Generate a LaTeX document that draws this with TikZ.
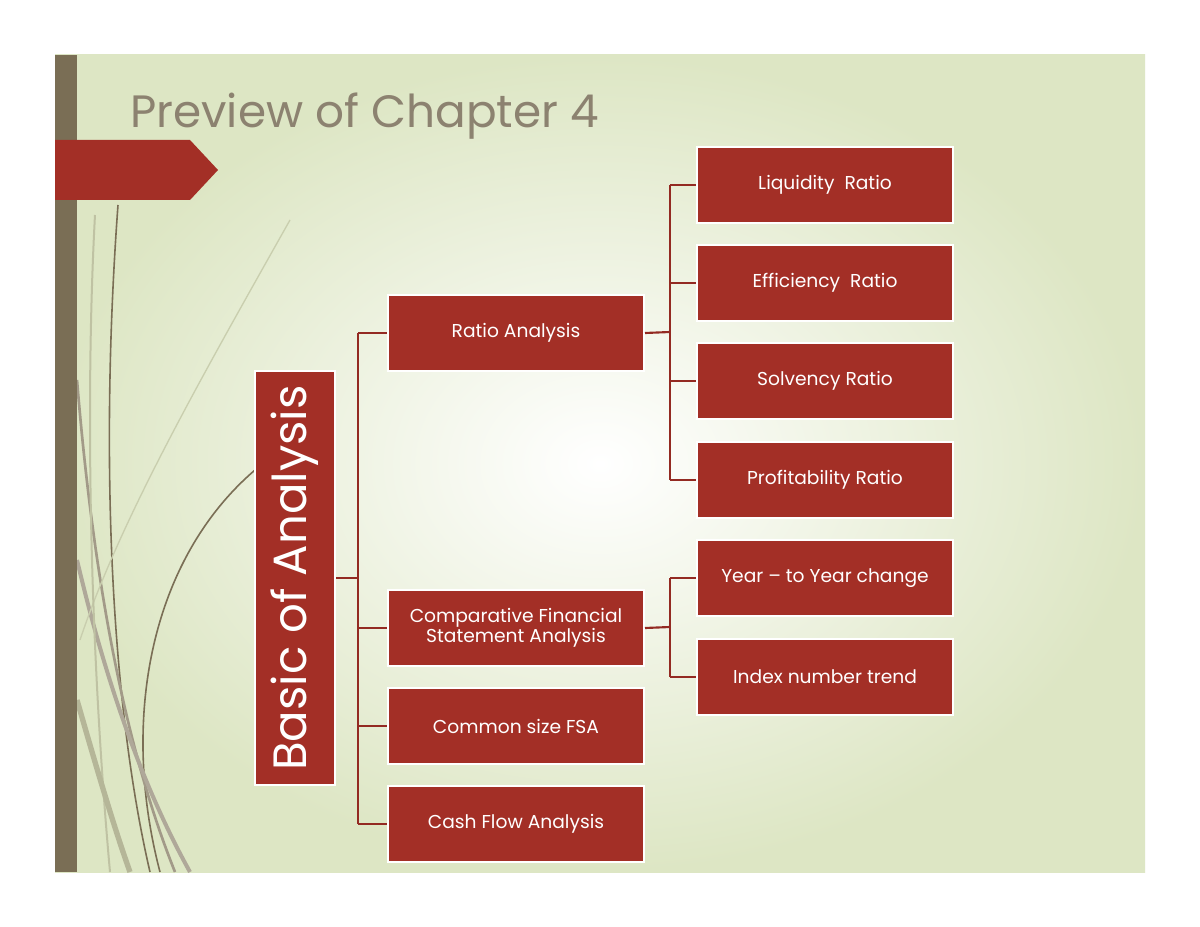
\documentclass[tikz,border=0pt]{standalone}
\usepackage{fontspec}
\setmainfont{Poppins}
\begin{document}
\begin{tikzpicture}[x=0.75pt,y=-0.75pt,
  box/.style={draw=white,line width=1.5pt,fill=rd,text=white,minimum width=192pt,minimum height=57pt,inner sep=0pt,font=\fontsize{14}{15}\selectfont,align=center,anchor=north west},
  con/.style={draw=rd!90!black,line width=1.6pt}]
\definecolor{rd}{HTML}{A32F26}
\definecolor{bar}{HTML}{7A6E55}
\definecolor{bgg}{HTML}{DDE6C4}
\definecolor{tt}{HTML}{8C8270}
\useasboundingbox (0,0) rectangle (1200,927);
\fill[white] (0,0) rectangle (1200,927);
\begin{scope}
\clip (55,55) rectangle (1145,872);
\shade[inner color=white,outer color=bgg] (55,55) rectangle (1145,872);
% decorative curves
\draw[bar,line width=1.2pt] (118,205) .. controls (100,450) and (110,700) .. (150,872);
\draw[bar,line width=1.2pt] (255,470) .. controls (150,560) and (120,720) .. (160,872);
\draw[bar!70,line width=2pt] (77,380) .. controls (95,600) and (130,760) .. (175,872);
\draw[bar!60,line width=3pt] (77,560) .. controls (110,700) and (150,800) .. (190,872);
\draw[bgg!80!bar,line width=1pt] (290,220) .. controls (200,380) and (120,520) .. (80,640);
\draw[bgg!70!bar,line width=1.5pt] (95,215) .. controls (85,400) and (90,650) .. (110,872);
\draw[bgg!60!bar,line width=4pt] (77,700) .. controls (100,780) and (115,830) .. (130,872);
\end{scope}
\fill[bar] (55,55) rectangle (77,872);
\fill[rd] (55,140) -- (190,140) -- (218,170) -- (190,200) -- (55,200) -- cycle;
\node[anchor=base west,text=tt,font=\fontsize{34}{36}\selectfont,inner sep=0pt] (title) at (130,128) {Preview of Chapter 4};
\node[draw=white,line width=1.5pt,fill=rd,text=white,minimum width=311pt,minimum height=60pt,inner sep=0pt,rotate=90,font=\fontsize{35}{36}\selectfont] (basic) at (295,578) {Basic of Analysis};
\node[box] (ratio) at (387,294) {Ratio Analysis};
\node[box] (comp) at (387,589) {Comparative Financial\\Statement Analysis};
\node[box] (common) at (387,687) {Common size FSA};
\node[box] (cash) at (387,785) {Cash Flow Analysis};
\node[box] (liq) at (696,146) {Liquidity\ \ Ratio};
\node[box] (eff) at (696,244) {Efficiency\ \ Ratio};
\node[box] (sol) at (696,342) {Solvency Ratio};
\node[box] (prof) at (696,441) {Profitability Ratio};
\node[box] (year) at (696,539) {Year -- to Year change};
\node[box] (index) at (696,638) {Index number trend};
\coordinate (j1) at (358,578);
\coordinate (j2) at (670,332);
\coordinate (j3) at (670,627);
\draw[con] (basic.south) -- (j1);
\draw[con] (j1 |- ratio.west) -- (j1 |- cash.west);
\foreach \n in {ratio,comp,common,cash} \draw[con] (j1 |- \n.west) -- (\n.west);
\draw[con] (ratio.east) -- (j2);
\draw[con] (j2 |- liq.west) -- (j2 |- prof.west);
\foreach \n in {liq,eff,sol,prof} \draw[con] (j2 |- \n.west) -- (\n.west);
\draw[con] (comp.east) -- (j3);
\draw[con] (j3 |- year.west) -- (j3 |- index.west);
\foreach \n in {year,index} \draw[con] (j3 |- \n.west) -- (\n.west);
\end{tikzpicture}
\end{document}
